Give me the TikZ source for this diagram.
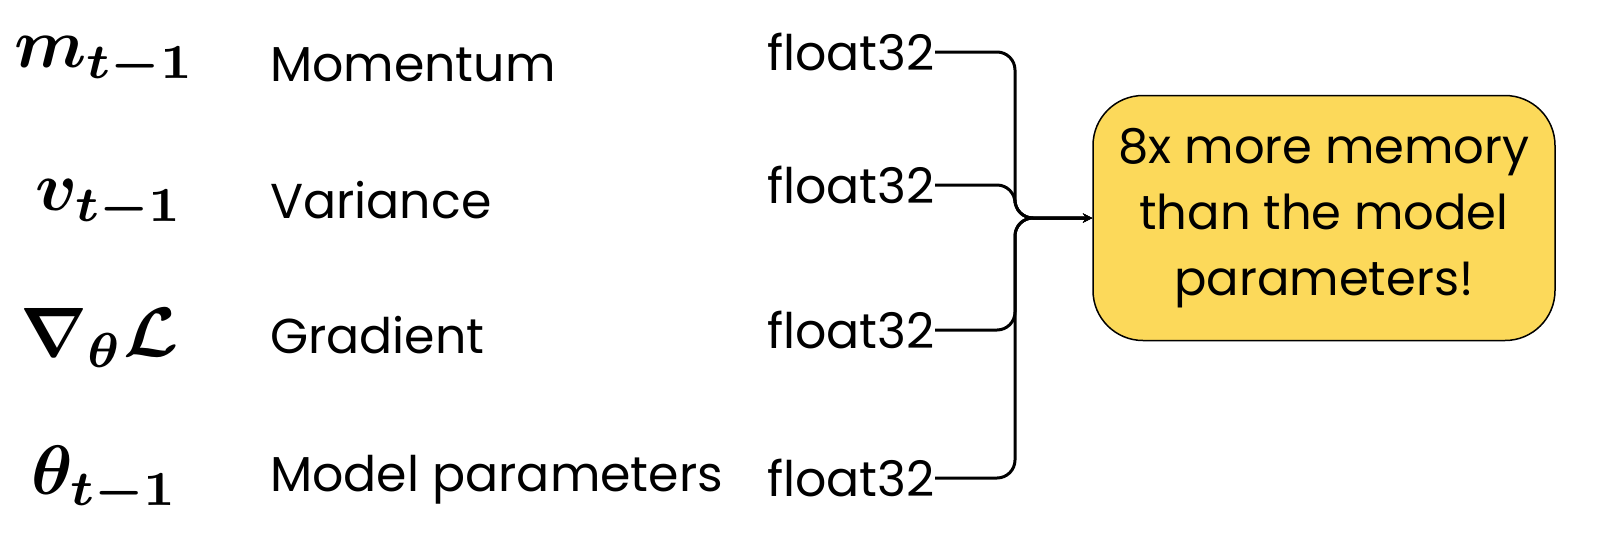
\documentclass[tikz,border=0pt]{standalone}
\usepackage{graphicx}
\usepackage{fontspec}
\setmainfont{Poppins}
\definecolor{memyellow}{HTML}{FCD95A}
\newcommand{\bigsym}[1]{\scalebox{7}{\boldmath$#1$}}
\tikzset{
  lbl/.style={anchor=west,inner sep=0pt,font=\fontsize{49}{58}\selectfont},
  sym/.style={anchor=center,inner sep=0pt},
  flt/.style={anchor=east,inner sep=0pt,font=\fontsize{49}{58}\selectfont},
  link/.style={line width=3pt,rounded corners=18pt,-stealth}
}
\begin{document}
\begin{tikzpicture}[x=1pt,y=-1pt]
  \useasboundingbox (0,0) rectangle (1610,550);
  % symbols
  \node[sym] (s1) at (105,62) {\bigsym{m_{t-1}}};
  \node[sym] (s2) at (110,205) {\bigsym{v_{t-1}}};
  \node[sym] (s3) at (100,338) {\bigsym{\nabla_\theta\mathcal{L}}};
  \node[sym] (s4) at (105,480) {\bigsym{\theta_{t-1}}};
  % names
  \node[lbl] (n1) at (270,65) {Momentum};
  \node[lbl] (n2) at (270,200) {Variance};
  \node[lbl] (n3) at (270,335) {Gradient};
  \node[lbl] (n4) at (270,480) {Model parameters};
  % types
  \node[flt] (f1) at (935,52) {float32};
  \node[flt] (f2) at (935,185) {float32};
  \node[flt] (f3) at (935,330) {float32};
  \node[flt] (f4) at (935,478) {float32};
  % result
  \node[draw,line width=1.5pt,fill=memyellow,rounded corners=50pt,
        minimum width=462pt,minimum height=245pt,align=center,
        font=\fontsize{48}{66}\selectfont] (box) at (1324,218)
        {8x more memory\\than the model\\parameters!};
  \coordinate (j) at (1015,218);
  \foreach \f in {f1,f2,f3,f4}
    \draw[link] (\f.east) -| (j) -- (box.west);
\end{tikzpicture}
\end{document}
